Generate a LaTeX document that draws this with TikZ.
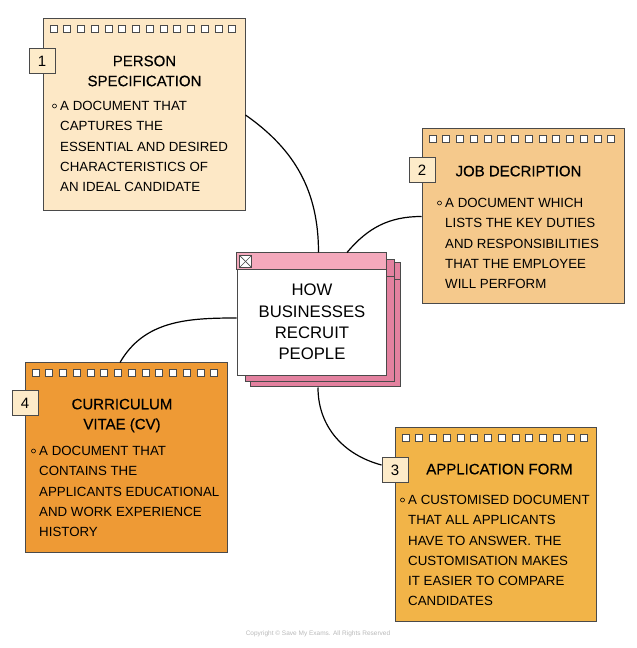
\documentclass[tikz,border=0pt]{standalone}
\usepackage{fontspec}
\setmainfont{Liberation Sans}
\newfontfamily\headfont[FakeBold=0.4]{Liberation Sans}

\definecolor{edge}{HTML}{4A4A4A}
\definecolor{specfill}{HTML}{FDE8C6}
\definecolor{jobfill}{HTML}{F5C98C}
\definecolor{formfill}{HTML}{F2B448}
\definecolor{cvfill}{HTML}{EE9A35}
\definecolor{badgefill}{HTML}{FDEBC9}
\definecolor{barpink}{HTML}{F4A9BC}
\definecolor{stackpink}{HTML}{E3819F}

\begin{document}
\begin{tikzpicture}[x=1pt,y=1pt,
	card/.style={draw=edge,line width=1pt,inner sep=0pt},
	badge/.style={draw=edge,line width=1pt,fill=badgefill,minimum width=26pt,minimum height=25pt,inner sep=0pt,font=\fontsize{15}{18}\selectfont},
	headline/.style={inner sep=0pt,anchor=north,align=center,font=\headfont\fontsize{15}{20}\selectfont},
	bodytext/.style={inner sep=0pt,anchor=north west,align=left,font=\fontsize{13.3}{20.2}\selectfont},
	hole/.style={draw=edge,fill=white,line width=1pt},
	dot/.style={draw=black,line width=0.6pt},
	link/.style={draw=black,line width=1.2pt}]

		% поле
		\useasboundingbox (0,0) rectangle (637,648);

		% person specification
		\node [card, fill=specfill, minimum width=202pt, minimum height=192pt] (spec) at (144,533) {};
		\foreach \k in {0,...,13} \draw [hole] ([shift={(7.5+\k*13.75,-14.5)}]spec.north west) rectangle ++(7,7);
		\node [badge] (n1) at (42,587) {1};
		\node [headline] (spechead) at (144.5,592.5) {PERSON\\SPECIFICATION};
		\node [bodytext] (spectext) at (60,546.8) {A DOCUMENT THAT\\CAPTURES THE\\ESSENTIAL AND DESIRED\\CHARACTERISTICS OF\\AN IDEAL CANDIDATE};
		\draw [dot] ([shift={(-5.5,-4.8)}]spectext.north west) circle (2);

		% job description
		\node [card, fill=jobfill, minimum width=202pt, minimum height=175pt] (job) at (523,431.5) {};
		\foreach \k in {0,...,13} \draw [hole] ([shift={(7.5+\k*13.75,-14.5)}]job.north west) rectangle ++(7,7);
		\node [badge] (n2) at (422,477.5) {2};
		\node [headline] (jobhead) at (518.5,482.4) {JOB DECRIPTION};
		\node [bodytext] (jobtext) at (445,449.8) {A DOCUMENT WHICH\\LISTS THE KEY DUTIES\\AND RESPONSIBILITIES\\THAT THE EMPLOYEE\\WILL PERFORM};
		\draw [dot] ([shift={(-5.5,-4.8)}]jobtext.north west) circle (2);

		% curriculum vitae
		\node [card, fill=cvfill, minimum width=202pt, minimum height=190pt] (cv) at (126,190) {};
		\foreach \k in {0,...,13} \draw [hole] ([shift={(7.5+\k*13.75,-14.5)}]cv.north west) rectangle ++(7,7);
		\node [badge] (n4) at (25,244.5) {4};
		\node [headline] (cvhead) at (122,249.4) {CURRICULUM\\VITAE (CV)};
		\node [bodytext] (cvtext) at (39,201.8) {A DOCUMENT THAT\\CONTAINS THE\\APPLICANTS EDUCATIONAL\\AND WORK EXPERIENCE\\HISTORY};
		\draw [dot] ([shift={(-5.5,-4.8)}]cvtext.north west) circle (2);

		% application form
		\node [card, fill=formfill, minimum width=201pt, minimum height=194pt] (form) at (495.5,123) {};
		\foreach \k in {0,...,13} \draw [hole] ([shift={(7.5+\k*13.75,-14.5)}]form.north west) rectangle ++(7,7);
		\node [badge] (n3) at (395,178) {3};
		\node [headline] (formhead) at (499.5,184.4) {APPLICATION FORM};
		\node [bodytext] (formtext) at (408,152.8) {A CUSTOMISED DOCUMENT\\THAT ALL APPLICANTS\\HAVE TO ANSWER. THE\\CUSTOMISATION MAKES\\IT EASIER TO COMPARE\\CANDIDATES};
		\draw [dot] ([shift={(-5.5,-4.8)}]formtext.north west) circle (2);

		% окно в центре
		\node [card, fill=stackpink, minimum width=150pt, minimum height=124pt] (stack2) at (325,323) {};
		\draw [edge, line width=1pt] ([yshift=-17pt]stack2.north west) -- ([yshift=-17pt]stack2.north east);
		\node [card, fill=stackpink, minimum width=149pt, minimum height=122pt] (stack1) at (319.5,327) {};
		\draw [edge, line width=1pt] ([yshift=-17pt]stack1.north west) -- ([yshift=-17pt]stack1.north east);
		\node [card, fill=white, minimum width=149pt, minimum height=123pt] (topic) at (311.5,333.5) {};
		\draw [draw=edge, line width=1pt, fill=barpink] (topic.north west) rectangle ([yshift=-17pt]topic.north east);
		\draw [draw=edge, line width=0.8pt, fill=white] ([shift={(3,-3)}]topic.north west) rectangle ([shift={(15,-15)}]topic.north west);
		\draw [edge, line width=0.7pt] ([shift={(3,-3)}]topic.north west) -- ([shift={(15,-15)}]topic.north west);
		\draw [edge, line width=0.7pt] ([shift={(15,-3)}]topic.north west) -- ([shift={(3,-15)}]topic.north west);
		\node [inner sep=0pt, anchor=north, align=center, font=\fontsize{16.7}{21.3}\selectfont] (topictext) at (312,364) {HOW\\BUSINESSES\\RECRUIT\\PEOPLE};

		% связи
		\draw [link] (spec.east) to [out=-35, in=90] ([xshift=7pt]topic.north);
		\draw [link] ([xshift=35.5pt]topic.north) to [out=50, in=180] (job.west);
		\draw [link] ([xshift=-6pt]cv.north) to [out=60, in=180] ([yshift=-3.5pt]topic.west);
		\draw [link] ([xshift=-7pt]stack2.south) to [out=-90, in=165] ([yshift=5pt]n3.west);

		% подпись
		\node [text=gray!55, font=\fontsize{6.5}{8}\selectfont] (copy) at (318,14) {Copyright \textcopyright{} Save My Exams. All Rights Reserved};
	\end{tikzpicture}
\end{document}
